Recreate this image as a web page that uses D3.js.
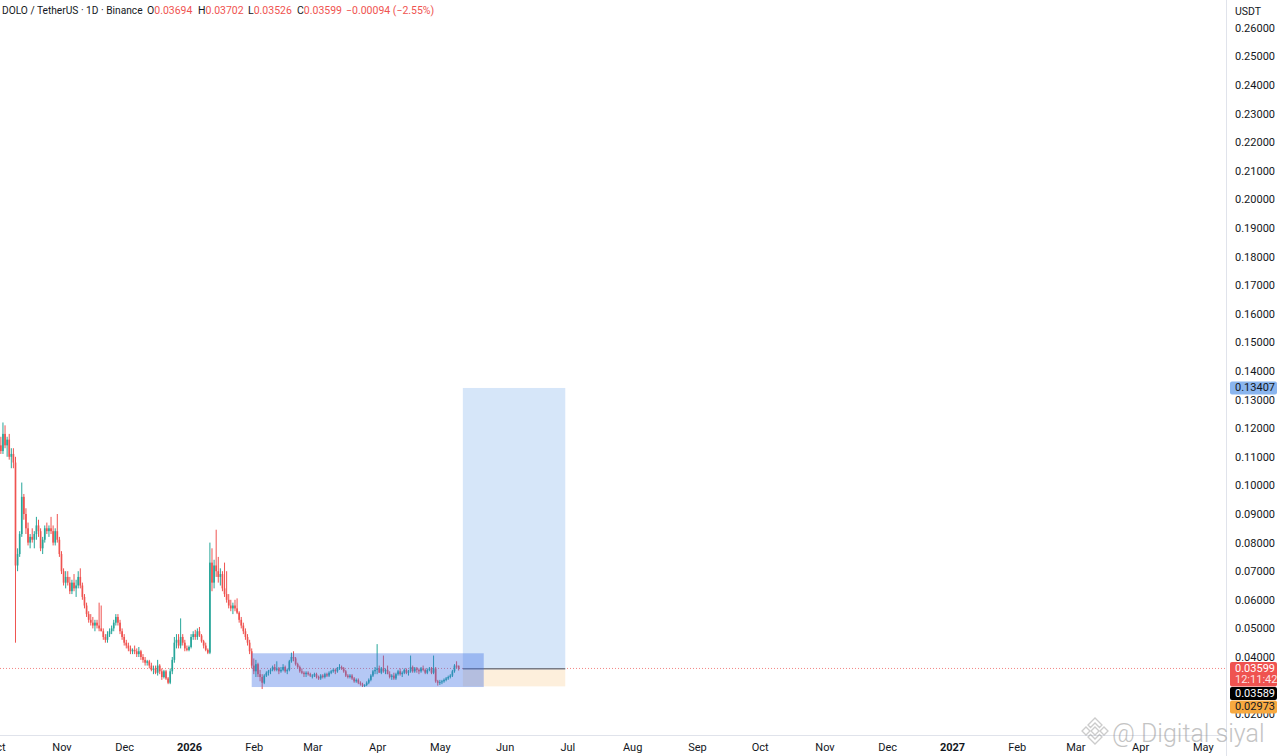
<!DOCTYPE html>
<html><head><meta charset="utf-8">
<script src="https://cdn.jsdelivr.net/npm/d3@7"></script>
<style>
html,body{margin:0;padding:0;background:#fff;}
svg{display:block;font-family:Roboto,"Noto Sans",sans-serif;}
</style></head><body>
<svg id="chart" width="1280" height="756"></svg>
<script>
// ---------------- DATA ----------------
const startDate = "2025-10-01"; // first daily candle
const opens = [
.108,.110,.114,.112,.118,.114,.116,.110,.111,.108,
.072,.076,.083,.096,.090,.085,.080,.082,.081,.083,
.086,.084,.078,.081,.085,.084,.085,.084,.080,.084,
.081,.076,.070,.066,.068,.066,.063,.066,.064,.065,
.068,.065,.061,.058,.055,.053,.052,.051,.052,.051,
.050,.049,.047,.046,.048,.049,.050,.052,.054,.052,
.049,.047,.045,.044,.043,.042,.0425,.042,.041,.042,
.040,.039,.038,.0385,.037,.0355,.036,.0345,.037,.035,
.033,.035,.0325,.031,.035,.039,.045,.046,.044,.047,
.045,.043,.0425,.0435,.047,.048,.047,.049,.0475,.0455,
.044,.0425,.0415,.073,.066,.072,.070,.068,.069,.064,
.062,.060,.058,.057,.058,.057,.0555,.053,.051,.049,
.047,.045,.042,.037,.035,.0375,.034,.033,.031,.0335,
.0345,.035,.0355,.0365,.0355,.036,.035,.0355,.0365,.035,
.0355,.0385,.040,.0395,.0375,.0365,.035,.0345,.034,.0345,
.034,.0335,.0335,.034,.033,.0325,.0335,.033,.034,.0335,
.0345,.035,.0355,.035,.036,.0365,.036,.035,.0335,.033,
.0335,.0325,.0315,.032,.031,.0305,.030,.0302,.031,.032,
.0335,.035,.0355,.036,.0345,.036,.035,.0355,.034,.033,
.0335,.0325,.034,.035,.034,.0345,.0355,.0345,.035,.0365,
.035,.036,.0355,.035,.036,.0355,.0345,.0355,.036,.0345,
.036,.0315,.031,.0312,.0315,.032,.0325,.033,.0335,.035,
.037,.03694];
const highs = [
.112,.115,.117,.122,.121,.117,.118,.113,.113,.110,
.078,.084,.101,.097,.092,.087,.083,.085,.084,.089,
.088,.085,.082,.086,.087,.086,.089,.086,.085,.090,
.082,.077,.071,.070,.070,.068,.067,.069,.067,.070,
.071,.066,.062,.059,.056,.055,.054,.053,.053,.059,
.058,.050,.048,.049,.050,.051,.053,.055,.055,.053,
.050,.048,.046,.045,.044,.043,.044,.043,.0435,.0425,
.041,.040,.039,.039,.038,.037,.037,.039,.0375,.036,
.0355,.0355,.033,.036,.040,.047,.048,.048,.0535,.048,
.046,.044,.044,.048,.049,.0495,.050,.0505,.048,.046,
.045,.043,.080,.078,.074,.0845,.075,.071,.070,.073,
.070,.062,.060,.059,.060,.0605,.056,.054,.052,.050,
.048,.046,.043,.0395,.039,.038,.0355,.034,.034,.035,
.0355,.036,.037,.0375,.0385,.0365,.0365,.0375,.037,.036,
.039,.0415,.042,.040,.038,.037,.036,.035,.035,.035,
.0345,.034,.0345,.0345,.0335,.034,.034,.0345,.0345,.035,
.0355,.036,.036,.0365,.0375,.037,.0365,.0355,.034,.034,
.034,.033,.0325,.0325,.0315,.031,.0305,.0315,.0325,.034,
.0355,.0365,.0445,.037,.0365,.0405,.036,.037,.035,.034,
.0345,.0345,.0355,.036,.035,.036,.036,.0355,.0405,.037,
.0365,.0365,.036,.0365,.037,.036,.036,.0365,.0365,.0405,
.0365,.032,.032,.032,.0325,.033,.0335,.034,.0355,.0375,
.0385,.03702];
const lows = [
.106,.109,.111,.111,.113,.110,.109,.106,.106,.045,
.070,.075,.082,.088,.083,.079,.078,.080,.078,.081,
.082,.077,.076,.080,.083,.082,.083,.079,.079,.080,
.075,.069,.065,.064,.065,.062,.062,.063,.061,.064,
.064,.060,.057,.054,.052,.051,.050,.049,.050,.049,
.049,.046,.045,.045,.047,.048,.049,.051,.051,.048,
.046,.044,.043,.042,.041,.041,.041,.040,.040,.039,
.038,.037,.037,.036,.035,.034,.034,.0335,.034,.032,
.0325,.032,.0305,.0305,.034,.038,.043,.043,.043,.044,
.042,.042,.042,.043,.046,.046,.046,.047,.045,.043,
.042,.041,.041,.063,.064,.068,.066,.065,.063,.061,
.059,.057,.056,.055,.056,.055,.052,.050,.048,.046,
.044,.041,.036,.034,.033,.033,.0315,.0288,.0305,.033,
.0335,.034,.035,.035,.035,.034,.0345,.035,.0345,.034,
.035,.038,.0385,.037,.036,.0345,.034,.033,.033,.0335,
.033,.0325,.033,.0325,.032,.032,.0325,.0325,.033,.033,
.034,.0345,.034,.0345,.0355,.0355,.0345,.033,.0325,.0325,
.032,.031,.031,.0305,.030,.0295,.0295,.0298,.0305,.0315,
.033,.034,.034,.0345,.034,.0345,.034,.034,.0325,.032,
.032,.032,.0335,.0335,.033,.034,.034,.0335,.0345,.0345,
.0345,.0345,.034,.0345,.035,.034,.034,.035,.034,.034,
.031,.030,.0302,.0305,.031,.0315,.032,.0325,.033,.0345,
.036,.03526];
const closes = [
.110,.114,.112,.118,.114,.116,.110,.111,.108,.072,
.076,.083,.096,.090,.085,.080,.082,.081,.083,.086,
.084,.078,.081,.085,.084,.085,.084,.080,.084,.081,
.076,.070,.066,.068,.066,.063,.066,.064,.065,.068,
.065,.061,.058,.055,.053,.052,.051,.052,.051,.050,
.049,.047,.046,.048,.049,.050,.052,.054,.052,.049,
.047,.045,.044,.043,.042,.0425,.042,.041,.042,.040,
.039,.038,.0385,.037,.0355,.036,.0345,.037,.035,.033,
.035,.0325,.031,.035,.039,.045,.046,.044,.047,.045,
.043,.0425,.0435,.047,.048,.047,.049,.0475,.0455,.044,
.0425,.0415,.073,.066,.072,.070,.068,.069,.064,.062,
.060,.058,.057,.058,.057,.0555,.053,.051,.049,.047,
.045,.042,.037,.035,.0375,.034,.033,.031,.0335,.0345,
.035,.0355,.0365,.0355,.036,.035,.0355,.0365,.035,.0355,
.0385,.040,.0395,.0375,.0365,.035,.0345,.034,.0345,.034,
.0335,.0335,.034,.033,.0325,.0335,.033,.034,.0335,.0345,
.035,.0355,.035,.036,.0365,.036,.035,.0335,.033,.0335,
.0325,.0315,.032,.031,.0305,.030,.0302,.031,.032,.0335,
.035,.0355,.036,.0345,.036,.035,.0355,.034,.033,.0335,
.0325,.034,.035,.034,.0345,.0355,.0345,.035,.0365,.035,
.036,.0355,.035,.036,.0355,.0345,.0355,.036,.0345,.036,
.0315,.031,.0312,.0315,.032,.0325,.033,.0335,.035,.037,
.03694,.03599];

const monthTicks = ["2025-10-01","2025-11-01","2025-12-01","2026-01-01","2026-02-01","2026-03-01",
  "2026-04-01","2026-05-01","2026-06-01","2026-07-01","2026-08-01","2026-09-01","2026-10-01",
  "2026-11-01","2026-12-01","2027-01-01","2027-02-01","2027-03-01","2027-04-01","2027-05-01"];
const priceTicks = [0.02,0.04,0.05,0.06,0.07,0.08,0.09,0.10,0.11,0.12,0.13,0.14,0.15,0.16,0.17,
  0.18,0.19,0.20,0.21,0.22,0.23,0.24,0.25,0.26];

const rangeBoxDates = ["2026-01-31","2026-05-22"];
const rangeBoxPrices = [0.0295, 0.0413];
const positionDates = ["2026-05-12","2026-06-30"];
const positionPrices = [0.13407, 0.03589, 0.02973]; // target, entry, stop
const lastPrice = 0.03599;
const countdown = "12:11:42";
const headerTitle = "DOLO / TetherUS · 1D · Binance";
const headerOHLC = [["O","0.03694"],["H","0.03702"],["L","0.03526"],["C","0.03599"]];
const headerChange = "−0.00094 (−2.55%)";

// ---------------- CHART ----------------
const W = 1280, H = 756, plotR = 1226, plotB = 735;
const UP = "#26a69a", DOWN = "#ef5350";
const parse = d3.utcParse("%Y-%m-%d");
const svg = d3.select("#chart");

const x = d3.scaleUtc().domain([Date.UTC(2026,0,1), Date.UTC(2027,0,1)]).range([189, 952]);
const y = d3.scaleLinear().domain([0.04, 0.26]).range([657, 27.8]);

const t0 = parse(startDate);
const candles = closes.map((c,i)=>({
  date: d3.utcDay.offset(t0, i), o: opens[i], h: highs[i], l: lows[i], c: c
}));

svg.append("defs").append("clipPath").attr("id","plot")
  .append("rect").attr("x",0).attr("y",0).attr("width",plotR).attr("height",plotB);
const plot = svg.append("g").attr("clip-path","url(#plot)");

// current price dotted line
plot.append("line").attr("x1",0).attr("x2",plotR)
  .attr("y1",y(lastPrice)).attr("y2",y(lastPrice))
  .attr("stroke","#ef5350").attr("stroke-opacity",0.7).attr("stroke-width",1)
  .attr("stroke-dasharray","1,2");

// long position tool
const px0 = x(parse(positionDates[0])), px1 = x(parse(positionDates[1]));
plot.append("rect").attr("x",px0).attr("width",px1-px0)
  .attr("y",y(positionPrices[0])).attr("height",y(positionPrices[1])-y(positionPrices[0]))
  .attr("fill","#d6e6f9");
plot.append("rect").attr("x",px0).attr("width",px1-px0)
  .attr("y",y(positionPrices[1])).attr("height",y(positionPrices[2])-y(positionPrices[1]))
  .attr("fill","#fdefdc");

// candles
const bw = Math.max(1, (x(d3.utcDay.offset(t0,1)) - x(t0)) * 0.8);
const cg = plot.append("g");
cg.selectAll("line.w").data(candles).join("line").attr("class","w")
  .attr("x1",d=>x(d.date)).attr("x2",d=>x(d.date))
  .attr("y1",d=>y(d.h)).attr("y2",d=>y(d.l))
  .attr("stroke",d=>d.c>=d.o?UP:DOWN).attr("stroke-width",1);
cg.selectAll("rect.b").data(candles).join("rect").attr("class","b")
  .attr("x",d=>x(d.date)-bw/2).attr("width",bw)
  .attr("y",d=>y(Math.max(d.o,d.c)))
  .attr("height",d=>Math.max(1, Math.abs(y(d.o)-y(d.c))))
  .attr("fill",d=>d.c>=d.o?UP:DOWN);

// entry line
plot.append("line").attr("x1",px0).attr("x2",px1)
  .attr("y1",y(positionPrices[1])).attr("y2",y(positionPrices[1]))
  .attr("stroke","#787b86").attr("stroke-width",1.5);

// range rectangle
const bx0 = x(parse(rangeBoxDates[0])), bx1 = x(parse(rangeBoxDates[1]));
plot.append("rect").attr("x",bx0).attr("width",bx1-bx0)
  .attr("y",y(rangeBoxPrices[1])).attr("height",y(rangeBoxPrices[0])-y(rangeBoxPrices[1]))
  .attr("fill","rgba(60,110,230,0.38)");

// separators
svg.append("line").attr("x1",plotR+0.5).attr("x2",plotR+0.5).attr("y1",0).attr("y2",H)
  .attr("stroke","#e0e3eb");
svg.append("line").attr("x1",0).attr("x2",plotR).attr("y1",plotB+0.5).attr("y2",plotB+0.5)
  .attr("stroke","#e0e3eb");

// x axis
const xAxis = d3.axisBottom(x)
  .tickValues(monthTicks.map(parse))
  .tickSize(0).tickPadding(8)
  .tickFormat(d => d.getUTCMonth()===0 ? d3.utcFormat("%Y")(d) : d3.utcFormat("%b")(d));
const gx = svg.append("g").attr("transform",`translate(0,${plotB})`).call(xAxis);
gx.select(".domain").remove();
gx.selectAll("text").attr("fill","#131722").attr("font-size",11)
  .attr("font-family","Roboto, 'Noto Sans', sans-serif")
  .attr("font-weight",d=>d.getUTCMonth()===0?700:400);

// y axis
const yAxis = d3.axisRight(y).tickValues(priceTicks).tickSize(0).tickPadding(9)
  .tickFormat(d3.format(".5f"));
const gy = svg.append("g").attr("transform",`translate(${plotR},0)`).call(yAxis);
gy.select(".domain").remove();
gy.selectAll("text").attr("fill","#131722").attr("font-size",11)
  .attr("font-family","Roboto, 'Noto Sans', sans-serif");

svg.append("rect").attr("x",plotR+1).attr("y",0).attr("width",W-plotR-1).attr("height",21).attr("fill","#fff");
svg.append("text").attr("x",1235).attr("y",15).attr("font-size",10.5).attr("fill","#131722").text("USDT");

// price labels on axis
function axisLabel(top, h, fill, lines){
  svg.append("rect").attr("x",1230).attr("y",top).attr("width",47).attr("height",h)
    .attr("rx",2).attr("fill",fill);
  lines.forEach((ln,k)=>{
    svg.append("text").attr("x",1235).attr("y",top+10+k*11).attr("font-size",11)
      .attr("fill",ln[1]).text(ln[0]);
  });
}
const f5 = d3.format(".5f");
axisLabel(y(positionPrices[0])-6.5, 13, "#8ab5ee", [[f5(positionPrices[0]),"#131722"]]);
const lpTop = y(lastPrice)-6.5;
axisLabel(lpTop, 24.5, "#ef5350", [[f5(lastPrice),"#ffffff"],[countdown,"rgba(255,255,255,0.85)"]]);
// entry & stop labels stack beneath the last-price label
axisLabel(lpTop+25, 13, "#000000", [[f5(positionPrices[1]),"#ffffff"]]);
axisLabel(lpTop+38.5, 13, "#f7a940", [[f5(positionPrices[2]),"#131722"]]);

// header
svg.append("text").attr("x",2).attr("y",14).attr("font-size",10.2).attr("fill","#131722").text(headerTitle);
const hx = [147,198,248,297];
headerOHLC.forEach((p,k)=>{
  const t = svg.append("text").attr("x",hx[k]).attr("y",14).attr("font-size",10.5);
  t.append("tspan").attr("fill","#131722").text(p[0]);
  t.append("tspan").attr("fill","#ef5350").text(p[1]);
});
svg.append("text").attr("x",346).attr("y",14).attr("font-size",10.5).attr("fill","#ef5350").text(headerChange);

// watermark
const wm = svg.append("g").attr("opacity",0.5);
const lg = wm.append("g").attr("transform","translate(1095,731)")
  .attr("fill","none").attr("stroke","#9a9a9a").attr("stroke-width",1.3);
lg.append("path").attr("d","M0,-4 L4,0 L0,4 L-4,0 Z");
lg.append("path").attr("d","M-9,-4 L-5,0 L-9,4 L-13,0 Z");
lg.append("path").attr("d","M9,-4 L13,0 L9,4 L5,0 Z");
lg.append("path").attr("d","M-7,-6 L0,-13 L7,-6 L4.5,-3.5 L0,-8 L-4.5,-3.5 Z");
lg.append("path").attr("d","M-7,6 L0,13 L7,6 L4.5,3.5 L0,8 L-4.5,3.5 Z");
wm.append("text").attr("x",1112).attr("y",742).attr("font-size",25).attr("font-weight",300)
  .attr("fill","#8a8a8a").text("@ Digital siyal");
</script>
</body></html>
